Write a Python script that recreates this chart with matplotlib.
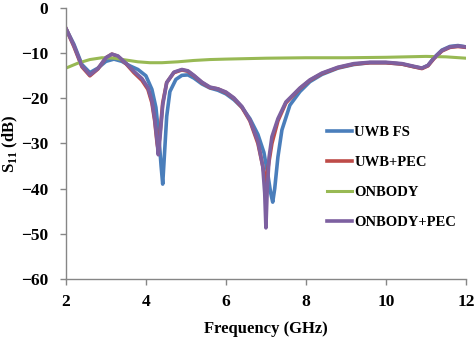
"""Return loss S11 of the antenna in four configurations"""
import matplotlib
matplotlib.use("Agg")
import matplotlib.pyplot as plt

# UWB FS
f_fs = [2.0, 2.2, 2.4, 2.6, 2.8, 3.0, 3.2, 3.4, 3.6, 3.8, 4.0, 4.15, 4.25, 4.32,
        4.38, 4.42, 4.46, 4.52, 4.6, 4.75, 4.9, 5.05, 5.2, 5.4, 5.6, 5.8, 6.0,
        6.2, 6.4, 6.6, 6.8, 6.95, 7.05, 7.12, 7.17, 7.22, 7.3, 7.4, 7.6, 7.85,
        8.1, 8.4, 8.8, 9.2, 9.6, 10.0, 10.4, 10.7, 10.9, 11.05, 11.2, 11.4,
        11.6, 11.8, 12.0]
s_fs = [-4.5, -8.0, -12.5, -14.3, -13.3, -11.8, -11.3, -11.8, -12.8, -13.6,
        -15.0, -18.0, -22.0, -28.0, -35.0, -39.0, -33.0, -24.0, -18.5, -15.8,
        -14.9, -14.8, -15.5, -16.8, -17.7, -18.2, -19.0, -20.3, -22.0, -24.5,
        -28.0, -32.0, -37.0, -41.0, -43.0, -40.0, -33.0, -27.0, -21.5, -18.5,
        -16.3, -14.7, -13.3, -12.5, -12.1, -12.1, -12.4, -13.0, -13.3, -12.7,
        -11.0, -9.3, -8.5, -8.3, -8.6]

# UWB+PEC
f_pec = [2.0, 2.2, 2.4, 2.6, 2.8, 3.0, 3.15, 3.3, 3.5, 3.7, 3.9, 4.05, 4.15,
         4.22, 4.28, 4.31, 4.35, 4.42, 4.52, 4.7, 4.9, 5.05, 5.2, 5.4, 5.6,
         5.8, 6.0, 6.2, 6.4, 6.6, 6.8, 6.92, 7.0, 7.06, 7.15, 7.3, 7.5, 7.85,
         8.1, 8.4, 8.8, 9.2, 9.6, 10.0, 10.4, 10.7, 10.9, 11.05, 11.2, 11.4,
         11.6, 11.8, 12.0]
s_pec = [-4.5, -8.5, -13.0, -15.0, -13.5, -11.0, -10.2, -10.7, -12.3, -14.3,
         -16.0, -18.0, -21.0, -25.0, -30.0, -31.5, -28.0, -21.0, -16.5, -14.3,
         -13.7, -14.0, -15.0, -16.5, -17.6, -17.9, -18.7, -20.0, -22.0, -25.0,
         -30.0, -35.0, -38.8, -35.0, -30.0, -25.0, -21.0, -17.8, -16.0, -14.5,
         -13.2, -12.4, -12.1, -12.1, -12.4, -13.0, -13.4, -12.8, -11.2, -9.5,
         -8.7, -8.5, -8.7]

# ONBODY
f_on = [2.0, 2.3, 2.6, 2.9, 3.2, 3.5, 3.8, 4.1, 4.4, 4.8, 5.2, 5.6, 6.0, 7.0,
        8.0, 9.0, 10.0, 11.0, 11.5, 12.0]
s_on = [-13.3, -12.2, -11.4, -11.0, -11.1, -11.5, -11.9, -12.1, -12.1, -11.9,
        -11.6, -11.4, -11.3, -11.1, -11.0, -11.0, -10.9, -10.7, -10.8, -11.1]

# ONBODY+PEC
f_onpec = [2.0, 2.2, 2.4, 2.6, 2.8, 3.0, 3.15, 3.3, 3.5, 3.7, 3.9, 4.05, 4.15,
           4.22, 4.28, 4.31, 4.35, 4.42, 4.52, 4.7, 4.9, 5.05, 5.2, 5.4, 5.6,
           5.8, 6.0, 6.2, 6.4, 6.6, 6.8, 6.92, 6.97, 7.0, 7.03, 7.08, 7.15,
           7.3, 7.5, 7.85, 8.1, 8.4, 8.8, 9.2, 9.6, 10.0, 10.4, 10.7, 10.9,
           11.05, 11.2, 11.4, 11.6, 11.8, 12.0]
s_onpec = [-4.5, -8.3, -12.8, -14.8, -13.4, -11.0, -10.2, -10.6, -12.2, -14.0,
           -15.6, -17.6, -20.5, -24.5, -29.5, -32.5, -29.0, -21.5, -16.5,
           -14.2, -13.6, -13.9, -14.9, -16.4, -17.5, -17.9, -18.6, -19.9,
           -21.8, -24.8, -29.5, -35.0, -41.0, -48.7, -41.0, -33.0, -28.5,
           -24.5, -20.8, -17.7, -15.9, -14.4, -13.1, -12.3, -12.0, -12.0,
           -12.3, -12.9, -13.3, -12.7, -11.1, -9.4, -8.6, -8.4, -8.6]

plt.rcParams["font.family"] = ["Liberation Serif", "DejaVu Serif"]
plt.rcParams["font.weight"] = "bold"
plt.rcParams["mathtext.fontset"] = "custom"
plt.rcParams["mathtext.rm"] = "Liberation Serif:bold"
plt.rcParams["mathtext.bf"] = "Liberation Serif:bold"

fig = plt.figure(figsize=(4.74, 3.38), dpi=100)
ax = fig.add_axes([0.139, 0.175, 0.844, 0.801])

ax.plot(f_fs, s_fs, color="#4A7EBB", lw=2.6, label="UWB FS")
ax.plot(f_pec, s_pec, color="#BE4B48", lw=2.6, label="UWB+PEC")
ax.plot(f_on, s_on, color="#98B954", lw=2.2, label="ONBODY")
ax.plot(f_onpec, s_onpec, color="#7D60A0", lw=2.6, label="ONBODY+PEC")

ax.set_xlim(2, 12)
ax.set_ylim(-60, 0)
ax.set_xticks([2, 4, 6, 8, 10, 12])
ax.set_yticks(range(-60, 1, 10))

for side in ["top", "right"]:
    ax.spines[side].set_visible(False)
for side in ["left", "bottom"]:
    ax.spines[side].set_color("#868686")
    ax.spines[side].set_linewidth(1.0)
ax.tick_params(direction="out", length=4, width=1, color="#868686",
               labelsize=12.5)
ax.tick_params(axis="y", pad=9)
ax.tick_params(axis="x", pad=7)
for lab in ax.get_xticklabels() + ax.get_yticklabels():
    lab.set_fontweight("bold")

ax.set_xlabel("Frequency (GHz)", fontsize=12, fontweight="bold", labelpad=8)
ax.set_ylabel(r"S$_{11}$ (dB)", fontsize=12, fontweight="bold")
ax.yaxis.set_label_coords(-0.115, 0.5)

leg = ax.legend(loc="upper left", bbox_to_anchor=(0.675, 0.65),
                bbox_transform=fig.transFigure, frameon=False,
                prop={"size": 10.5, "weight": "bold"}, handlelength=1.7,
                handletextpad=0.15, labelspacing=1.15, borderpad=0)

fig.savefig("out.png", dpi=100)
